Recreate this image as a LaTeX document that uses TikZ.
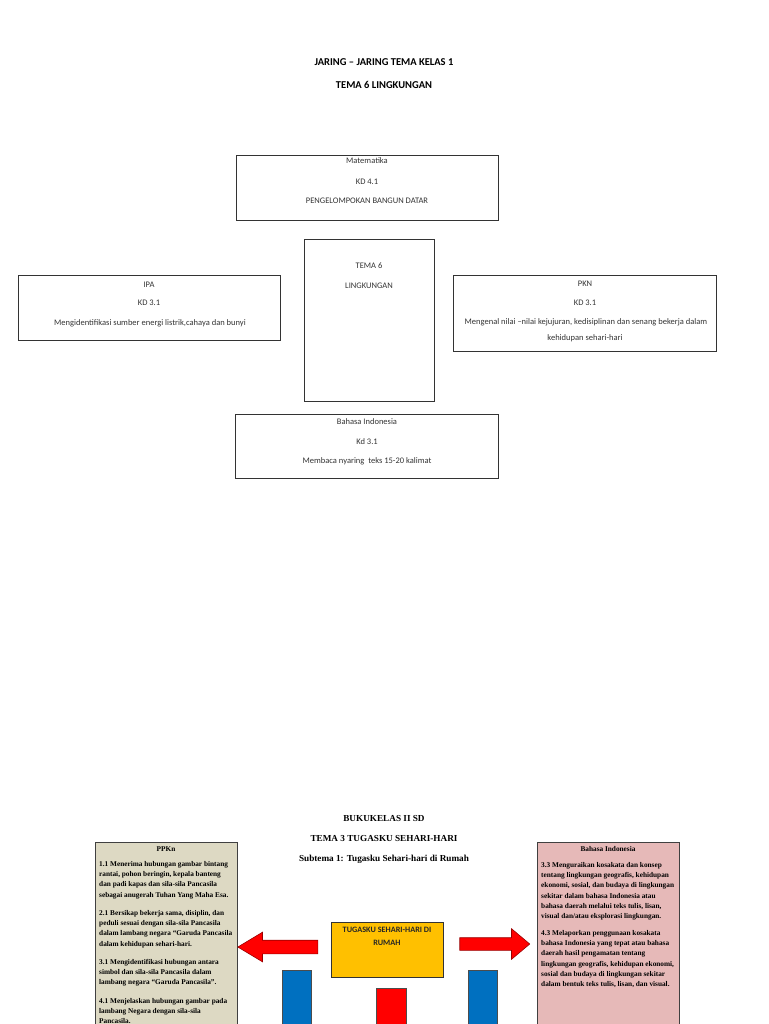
\documentclass[tikz,border=0pt]{standalone}
\usepackage{fontspec}
\newfontfamily\calf[Ligatures=TeX]{Carlito}
\newfontfamily\timf[Ligatures=TeX]{Liberation Serif}
\usetikzlibrary{shapes.arrows}
\definecolor{tan}{HTML}{DDD9C3}
\definecolor{pinkbox}{HTML}{E6B9B8}
\definecolor{goldbox}{HTML}{FFC000}
\definecolor{bluebar}{HTML}{0070C0}
\definecolor{edge}{HTML}{404040}
\tikzset{
  box/.style={draw=black!80, line width=0.8pt, anchor=north west, inner sep=0pt},
  ctext/.style={font=\calf\fontsize{8.5}{9}\selectfont, text=black!80, inner sep=0pt, anchor=base},
  ttl/.style={font=\calf\bfseries\fontsize{10.5}{12}\selectfont, inner sep=0pt, anchor=base},
  sttl/.style={font=\timf\bfseries\fontsize{9.2}{11}\selectfont, inner sep=0pt, anchor=base},
  cbox/.style={draw=edge, line width=1.2pt, anchor=north west, inner sep=0pt},
  stxt/.style={font=\timf\bfseries\fontsize{7.3}{10.3}\selectfont, align=left, inner sep=0pt, anchor=north west},
  shead/.style={font=\timf\bfseries\fontsize{7.3}{8}\selectfont, inner sep=0pt, anchor=base},
  ytext/.style={font=\calf\bfseries\fontsize{8.2}{10}\selectfont, text=black!85, inner sep=0pt, anchor=base},
  redarrow/.style={single arrow, draw=red!60!black, fill=red, line width=0.6pt, inner sep=0pt, single arrow head indent=0pt},
  bar/.style={draw=black!70, line width=0.8pt, anchor=north west, inner sep=0pt},
}
\begin{document}
\begin{tikzpicture}[x=1pt,y=-1pt]
\useasboundingbox (0,0) rectangle (768,1024);
% titles
\node[ttl] (t1) at (384,66) {JARING – JARING TEMA KELAS 1};
\node[ttl] (t2) at (384,89) {TEMA 6 LINGKUNGAN};
% Matematika
\node[box, minimum width=262pt, minimum height=65pt] (mat) at (236,155) {};
\node[ctext] (mat1) at (367,164) {Matematika};
\node[ctext] (mat2) at (367,185) {KD 4.1};
\node[ctext] (mat3) at (367,204) {PENGELOMPOKAN BANGUN DATAR};
% Tema 6 centre
\node[box, minimum width=130pt, minimum height=162pt] (tema) at (304,239) {};
\node[ctext] (tema1) at (369,268) {TEMA 6};
\node[ctext] (tema2) at (369,288) {LINGKUNGAN};
% IPA
\node[box, minimum width=262pt, minimum height=65pt] (ipa) at (18,275) {};
\node[ctext] (ipa1) at (149,287) {IPA};
\node[ctext] (ipa2) at (149,305) {KD 3.1};
\node[ctext] (ipa3) at (150,325) {Mengidentifikasi sumber energi listrik,cahaya dan bunyi};
% PKN
\node[box, minimum width=263pt, minimum height=76pt] (pkn) at (453,275) {};
\node[ctext] (pkn1) at (585,286) {PKN};
\node[ctext] (pkn2) at (585,305) {KD 3.1};
\node[ctext] (pkn3) at (586,324) {Mengenal nilai –nilai kejujuran, kedisiplinan dan senang bekerja dalam};
\node[ctext] (pkn4) at (585,340) {kehidupan sehari-hari};
% Bahasa Indonesia
\node[box, minimum width=263pt, minimum height=64pt] (bi) at (235,414) {};
\node[ctext] (bi1) at (367,424) {Bahasa Indonesia};
\node[ctext] (bi2) at (367,444) {Kd 3.1};
\node[ctext] (bi3) at (367,463) {Membaca nyaring\ \ teks 15-20 kalimat};
% second part
\node[sttl] (s1) at (384,821) {BUKUKELAS II SD};
\node[sttl] (s2) at (384,841) {TEMA 3 TUGASKU SEHARI-HARI};
\node[sttl] (s3) at (384,861) {Subtema 1: Tugasku Sehari-hari di Rumah};
% PPKn box
\node[cbox, fill=tan, minimum width=142pt, minimum height=190pt] (ppkn) at (95,842) {};
\node[shead] (ppknt) at (166,851) {PPKn};
\node[stxt] (ppkna) at (99,861) {1.1 Menerima hubungan gambar bintang\\rantai, pohon beringin, kepala banteng\\dan padi kapas dan sila-sila Pancasila\\sebagai anugerah Tuhan Yang Maha Esa.};
\node[stxt] (ppknb) at (99,910) {2.1 Bersikap bekerja sama, disiplin, dan\\peduli sesuai dengan sila-sila Pancasila\\dalam lambang negara “Garuda Pancasila\\dalam kehidupan sehari-hari.};
\node[stxt] (ppknc) at (99,959) {3.1 Mengidentifikasi hubungan antara\\simbol dan sila-sila Pancasila dalam\\lambang negara “Garuda Pancasila”.};
\node[stxt] (ppknd) at (99,998) {4.1 Menjelaskan hubungan gambar pada\\lambang Negara dengan sila-sila\\Pancasila.};
% Bahasa Indonesia box
\node[cbox, fill=pinkbox, minimum width=142pt, minimum height=190pt] (bind) at (537,842) {};
\node[shead] (bindt) at (608,851) {Bahasa Indonesia};
\node[stxt] (binda) at (541,862) {3.3 Menguraikan kosakata dan konsep\\tentang lingkungan geografis, kehidupan\\ekonomi, sosial, dan budaya di lingkungan\\sekitar dalam bahasa Indonesia atau\\bahasa daerah melalui teks tulis, lisan,\\visual dan/atau eksplorasi lingkungan.};
\node[stxt] (bindb) at (541,930) {4.3 Melaporkan penggunaan kosakata\\bahasa Indonesia yang tepat atau bahasa\\daerah hasil pengamatan tentang\\lingkungan geografis, kehidupan ekonomi,\\sosial dan budaya di lingkungan sekitar\\dalam bentuk teks tulis, lisan, dan visual.};
% yellow centre
\node[draw=black!80, line width=0.8pt, fill=goldbox, anchor=north west, minimum width=112pt, minimum height=55pt, inner sep=0pt] (yel) at (331,922) {};
\node[ytext] (yelt1) at (387,932) {TUGASKU SEHARI-HARI DI};
\node[ytext] (yelt2) at (387,945) {RUMAH};
% arrows
\node[redarrow, shape border rotate=180, minimum height=80pt, minimum width=29pt, single arrow head extend=8pt, single arrow tip angle=62, text height=13pt] (la) at (283.5,947) {};
\node[redarrow, minimum height=70pt, minimum width=30pt, single arrow head extend=9pt, single arrow tip angle=80, text height=12pt] (ra) at (491,944) {};
% bars
\node[bar, fill=bluebar, minimum width=29pt, minimum height=60pt] (b1) at (282,970) {};
\node[bar, fill=bluebar, minimum width=29pt, minimum height=60pt] (b2) at (468,970) {};
\node[bar, fill=red, minimum width=30pt, minimum height=40pt] (b3) at (376,988) {};
\end{tikzpicture}
\end{document}
